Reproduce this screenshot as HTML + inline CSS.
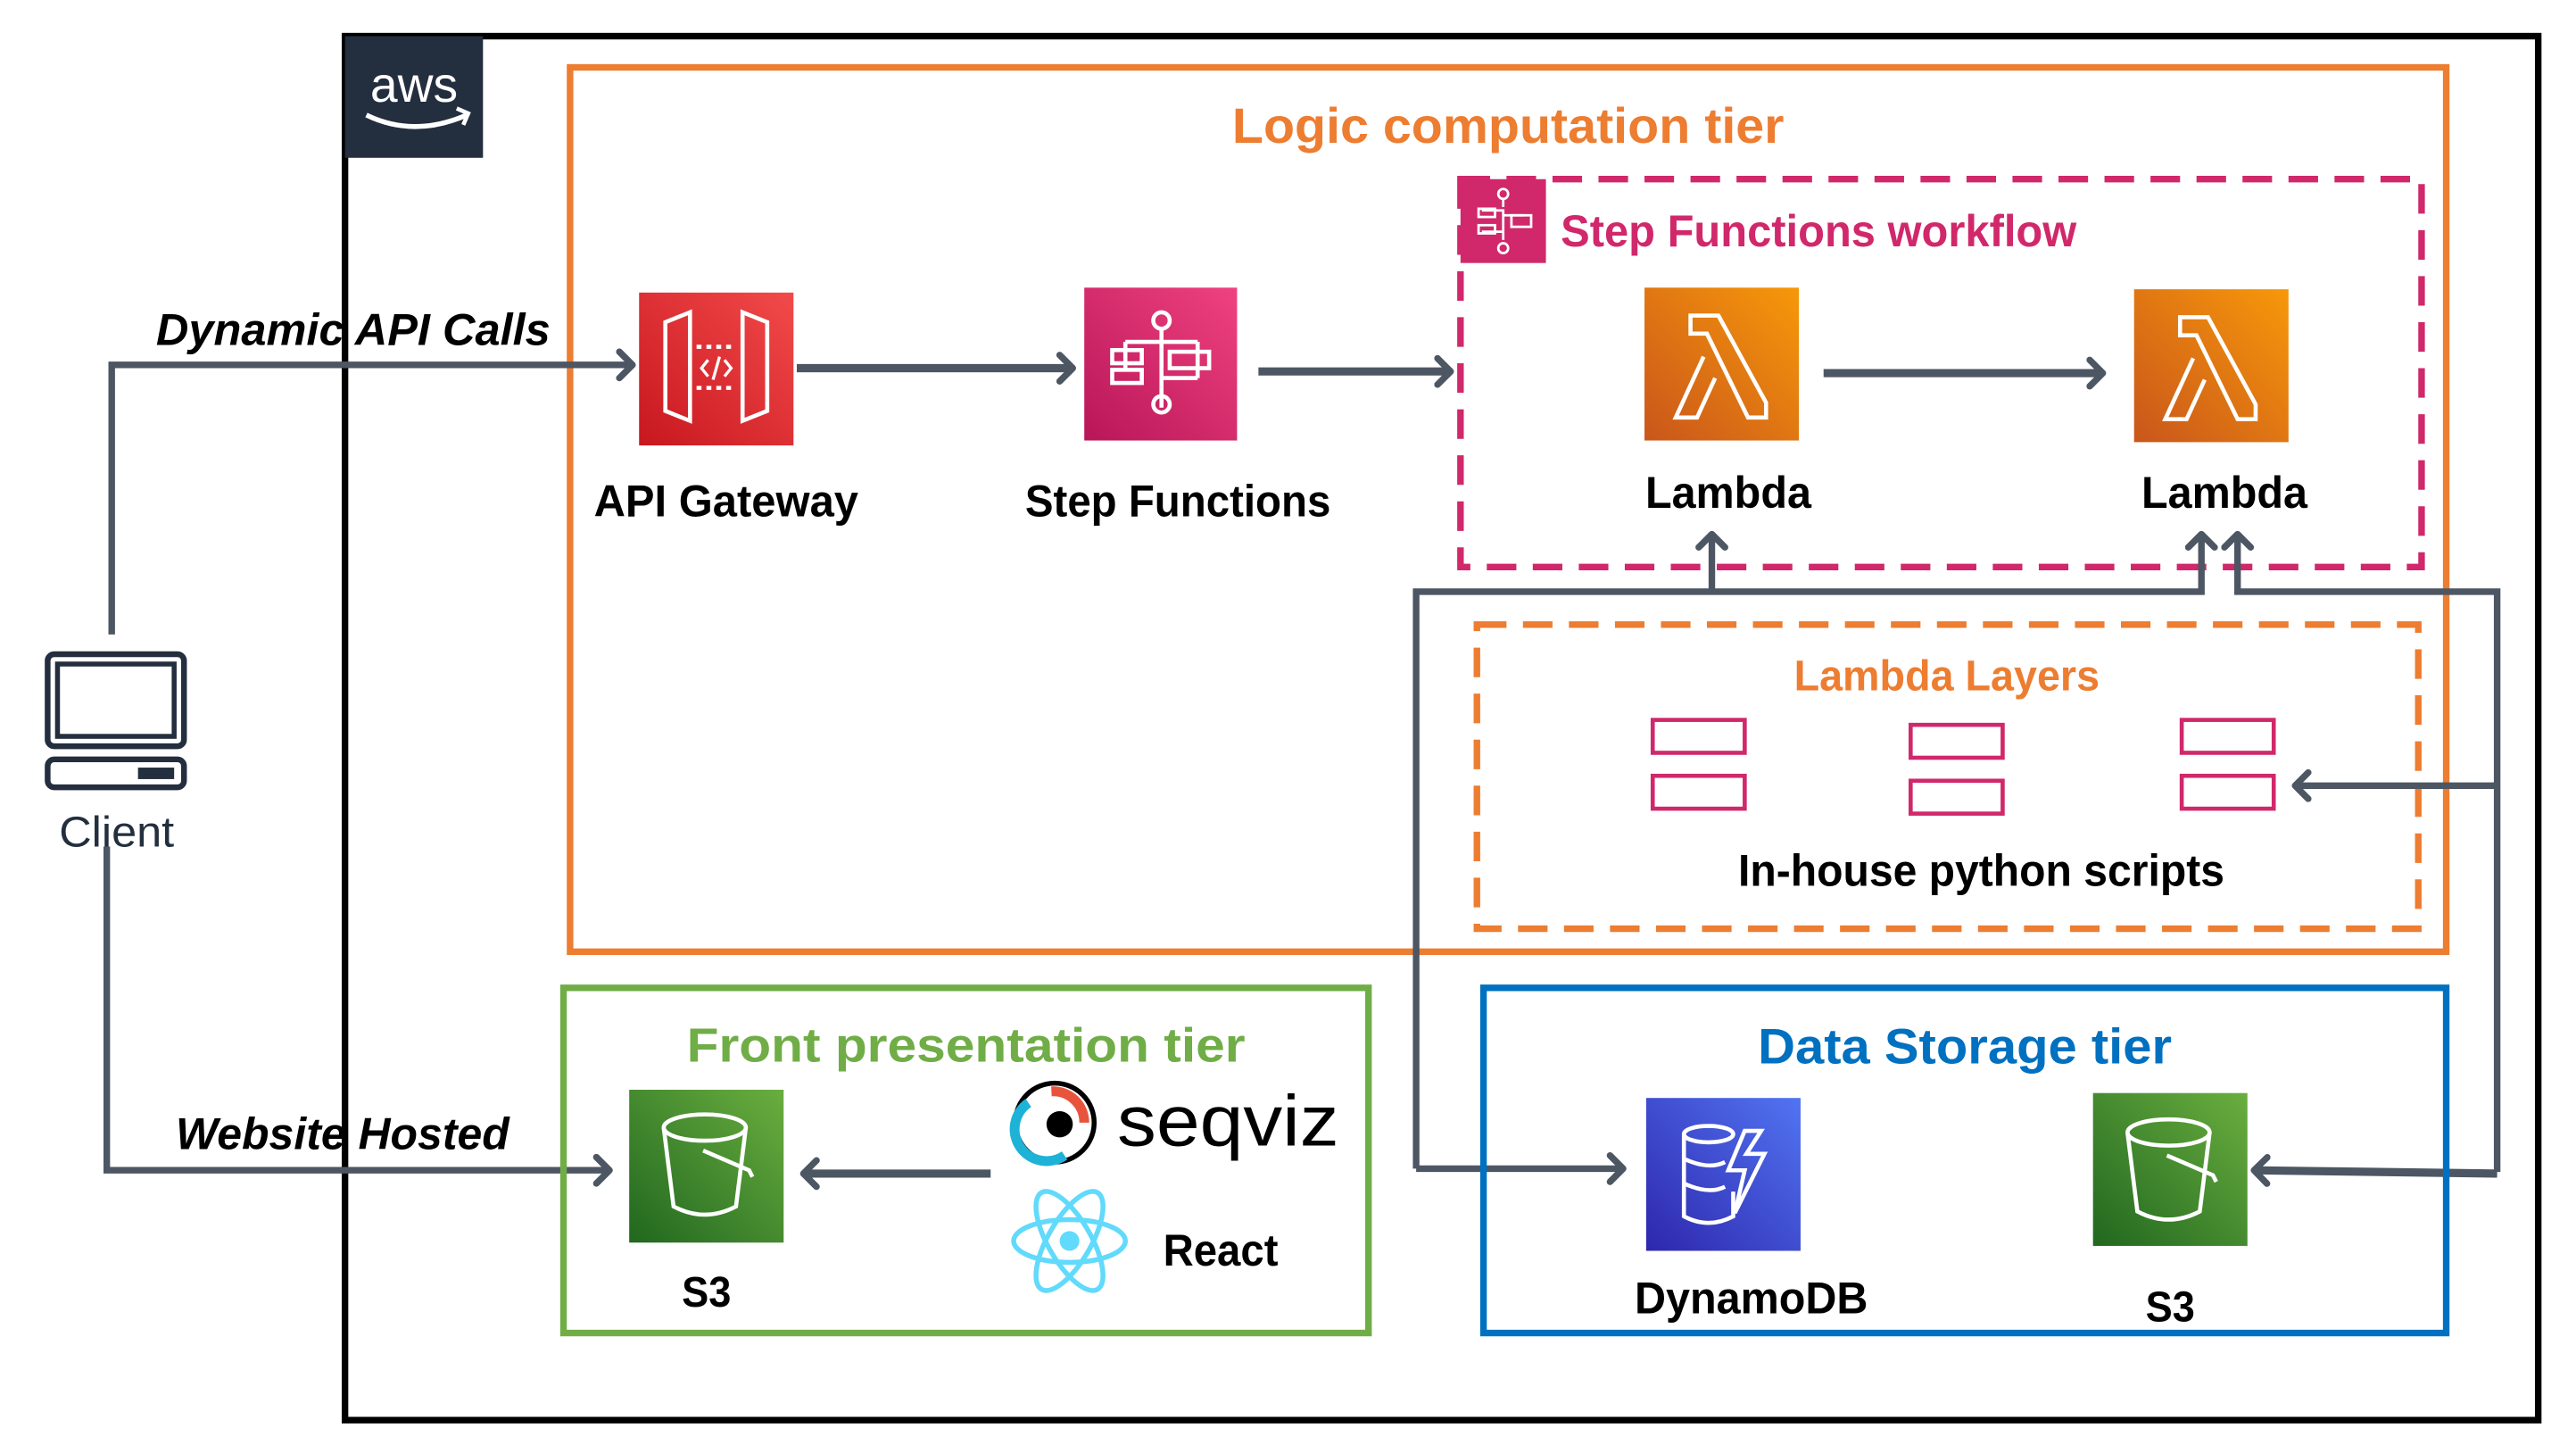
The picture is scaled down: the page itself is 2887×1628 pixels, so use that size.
<!DOCTYPE html>
<html><head><meta charset="utf-8"><style>
html,body{margin:0;padding:0;background:#fff;}
svg{display:block;}
text{font-family:"Liberation Sans Narrow","Liberation Sans",sans-serif;font-weight:bold;}
</style></head><body>
<svg width="2887" height="1628" viewBox="0 0 1568 884" preserveAspectRatio="none" xmlns="http://www.w3.org/2000/svg">
<defs>
<marker id="a" markerUnits="userSpaceOnUse" markerWidth="20" markerHeight="24" refX="10" refY="10" orient="auto">
<path d="M2,2 L10,10 L2,18" fill="none" stroke="#4d5663" stroke-width="4" stroke-linecap="round" stroke-linejoin="round"/>
</marker>
<linearGradient id="gr" x1="0" y1="1" x2="1" y2="0"><stop offset="0" stop-color="#c8171f"/><stop offset="1" stop-color="#f24a4a"/></linearGradient>
<linearGradient id="gp" x1="0" y1="1" x2="1" y2="0"><stop offset="0" stop-color="#b81659"/><stop offset="1" stop-color="#f0427f"/></linearGradient>
<linearGradient id="go" x1="0" y1="1" x2="1" y2="0"><stop offset="0" stop-color="#c9561b"/><stop offset="1" stop-color="#f7980a"/></linearGradient>
<linearGradient id="gg" x1="0" y1="1" x2="1" y2="0"><stop offset="0" stop-color="#21671f"/><stop offset="1" stop-color="#6aae3f"/></linearGradient>
<linearGradient id="gb" x1="0" y1="1" x2="1" y2="0"><stop offset="0" stop-color="#2e27ad"/><stop offset="1" stop-color="#5174f2"/></linearGradient>
</defs>

<!-- AWS cloud box -->
<rect x="210" y="22" width="1335" height="842" fill="none" stroke="#000" stroke-width="4"/>
<rect x="210" y="22" width="84" height="74" fill="#232f3e"/>
<text x="252" y="62" text-anchor="middle" fill="#fff" font-size="30" style="font-weight:normal">aws</text>
<path d="M223,70 Q252,84 284,70" fill="none" stroke="#fff" stroke-width="3"/>
<path d="M278,66 L285,69 L282,76" fill="none" stroke="#fff" stroke-width="2.5"/>

<!-- Logic tier -->
<rect x="347" y="41" width="1142" height="538" fill="none" stroke="#ed7d31" stroke-width="4"/>
<text x="918" y="87" text-anchor="middle" fill="#ed7d31" font-size="30" textLength="336" lengthAdjust="spacingAndGlyphs">Logic computation tier</text>

<!-- Step functions workflow dashed -->
<rect x="889" y="109" width="585" height="236" fill="none" stroke="#d0286b" stroke-width="4" stroke-dasharray="18,10"/>
<rect x="889" y="109" width="52" height="51" fill="#d0286b"/>
<g fill="none" stroke="#fff" stroke-width="1.5">
<circle cx="915" cy="118" r="3"/><path d="M915,121 V126 M902,128 H915 V146 M915,131 H928 M915,141 H902"/>
<rect x="900" y="127" width="10" height="5"/><rect x="900" y="137" width="10" height="5"/><rect x="920" y="131" width="12" height="7"/>
<circle cx="915" cy="151" r="3"/>
</g>
<text x="950" y="150" fill="#d0286b" font-size="27" textLength="314" lengthAdjust="spacingAndGlyphs">Step Functions workflow</text>

<!-- API Gateway -->
<rect x="389" y="178" width="94" height="93" fill="url(#gr)"/>
<g fill="none" stroke="#fff" stroke-width="2.5">
<path d="M405,196 L420,190 V256 L405,250 Z"/><path d="M467,196 L452,190 V256 L467,250 Z"/>
<path d="M424,211 H448 M424,236 H448" stroke-dasharray="3,3"/>
<path d="M431,219 L427,224 L431,229 M441,219 L445,224 L441,229 M438,217 L434,231" stroke-width="1.8"/>
</g>
<text x="442" y="314" text-anchor="middle" font-size="27" textLength="161" lengthAdjust="spacingAndGlyphs">API Gateway</text>

<!-- Step Functions -->
<rect x="660" y="175" width="93" height="93" fill="url(#gp)"/>
<g fill="none" stroke="#fff" stroke-width="2.5">
<circle cx="707" cy="195" r="5"/><path d="M707,200 V206 M685,208 H729 M707,206 V248 M707,230 H729 M685,208 V226 M729,208 V230"/>
<rect x="677" y="213" width="18" height="8"/><rect x="677" y="225" width="18" height="8"/><rect x="712" y="214" width="24" height="10"/>
<circle cx="707" cy="246" r="5"/>
</g>
<text x="717" y="314" text-anchor="middle" font-size="27" textLength="186" lengthAdjust="spacingAndGlyphs">Step Functions</text>

<!-- Lambdas -->
<g>
<rect x="1001" y="175" width="94" height="93" fill="url(#go)"/>
<path d="M1029,192 H1046 L1075,245 V254 H1064 L1039,203 H1029 Z M1037,217 L1020,254 H1033 L1044,230" fill="none" stroke="#fff" stroke-width="2.5"/>
<rect x="1299" y="176" width="94" height="93" fill="url(#go)"/>
<path d="M1327,193 H1344 L1373,246 V255 H1362 L1337,204 H1327 Z M1335,218 L1318,255 H1331 L1342,231" fill="none" stroke="#fff" stroke-width="2.5"/>
</g>
<text x="1052" y="309" text-anchor="middle" font-size="27" textLength="101" lengthAdjust="spacingAndGlyphs">Lambda</text>
<text x="1354" y="309" text-anchor="middle" font-size="27" textLength="101" lengthAdjust="spacingAndGlyphs">Lambda</text>

<!-- arrows top -->
<g stroke="#4d5663" stroke-width="5" fill="none">
<line x1="485" y1="224" x2="653" y2="224" marker-end="url(#a)"/>
<line x1="766" y1="226" x2="883" y2="226" marker-end="url(#a)"/>
<line x1="1110" y1="227" x2="1280" y2="227" marker-end="url(#a)"/>
<polyline points="68,386 68,222 385,222" marker-end="url(#a)" stroke-width="4"/>
<polyline points="65,515 65,712 371,712" marker-end="url(#a)" stroke-width="4"/>
<line x1="603" y1="714" x2="489" y2="714" marker-end="url(#a)"/>
</g>
<text x="95" y="210" font-size="27" font-style="italic" textLength="240" lengthAdjust="spacingAndGlyphs">Dynamic  API  Calls</text>
<text x="107" y="699" font-size="27" font-style="italic" textLength="203" lengthAdjust="spacingAndGlyphs">Website  Hosted</text>

<!-- Client -->
<rect x="29" y="398" width="83" height="56" rx="4" fill="none" stroke="#232f3e" stroke-width="3.5"/>
<rect x="35" y="404" width="71" height="44" fill="none" stroke="#232f3e" stroke-width="3"/>
<rect x="29" y="462" width="83" height="17" rx="4" fill="none" stroke="#232f3e" stroke-width="3.5"/>
<rect x="84" y="467" width="22" height="7" fill="#232f3e"/>
<text x="71" y="515" text-anchor="middle" font-size="26" fill="#232f3e" style="font-weight:normal" textLength="70" lengthAdjust="spacingAndGlyphs">Client</text>

<!-- Lambda layers -->
<rect x="899" y="380" width="573" height="185" fill="none" stroke="#ed7d31" stroke-width="4" stroke-dasharray="18,10"/>
<text x="1185" y="420" text-anchor="middle" fill="#ed7d31" font-size="26" textLength="186" lengthAdjust="spacingAndGlyphs">Lambda Layers</text>
<g fill="none" stroke="#d0286b" stroke-width="2.5">
<rect x="1006" y="438" width="56" height="20"/><rect x="1006" y="472" width="56" height="20"/>
<rect x="1163" y="441" width="56" height="20"/><rect x="1163" y="475" width="56" height="20"/>
<rect x="1328" y="438" width="56" height="20"/><rect x="1328" y="472" width="56" height="20"/>
</g>
<text x="1206" y="539" text-anchor="middle" font-size="27" textLength="296" lengthAdjust="spacingAndGlyphs">In-house python scripts</text>

<!-- layer connectors -->
<g stroke="#4d5663" stroke-width="4" fill="none">
<line x1="1042" y1="360" x2="1042" y2="325" marker-end="url(#a)"/>
<polyline points="862,711 862,360 1340,360 1340,325" marker-end="url(#a)"/>
<line x1="862" y1="711" x2="988" y2="711" marker-end="url(#a)"/>
<polyline points="1520,713 1520,360 1362,360 1362,325" marker-end="url(#a)"/>
<line x1="1520" y1="478" x2="1397" y2="478" marker-end="url(#a)"/>
<line x1="1520" y1="714" x2="1372" y2="712" marker-end="url(#a)" stroke-width="5"/>
</g>

<!-- Front presentation tier -->
<rect x="343" y="601" width="490" height="210" fill="none" stroke="#70ad47" stroke-width="4"/>
<text x="588" y="646" text-anchor="middle" fill="#70ad47" font-size="29" textLength="340" lengthAdjust="spacingAndGlyphs">Front presentation tier</text>
<rect x="383" y="663" width="94" height="93" fill="url(#gg)"/>
<g fill="none" stroke="#fff" stroke-width="2.5">
<ellipse cx="429" cy="686" rx="25" ry="8"/><path d="M404,686 L410,734 Q429,744 448,734 L454,686"/><path d="M428,700 L456,712 L458,716"/>
</g>
<text x="430" y="795" text-anchor="middle" font-size="26" textLength="30" lengthAdjust="spacingAndGlyphs">S3</text>
<circle cx="642" cy="683" r="24" fill="none" stroke="#000" stroke-width="3"/>
<path d="M626,671 A19,19 0 0,0 648,703" fill="none" stroke="#1eb2d6" stroke-width="6"/>
<path d="M640,664 A19,19 0 0,1 660,683" fill="none" stroke="#e8533c" stroke-width="6"/>
<circle cx="645" cy="684" r="8" fill="#000"/>
<text x="680" y="697" font-size="44" style="font-weight:normal" textLength="135" lengthAdjust="spacingAndGlyphs">seqviz</text>
<g fill="none" stroke="#61dafb" stroke-width="3">
<ellipse cx="651" cy="755" rx="34" ry="13"/><ellipse cx="651" cy="755" rx="34" ry="13" transform="rotate(60 651 755)"/><ellipse cx="651" cy="755" rx="34" ry="13" transform="rotate(-60 651 755)"/>
</g>
<circle cx="651" cy="755" r="6" fill="#61dafb"/>
<text x="708" y="770" font-size="27" textLength="70" lengthAdjust="spacingAndGlyphs">React</text>

<!-- Data storage tier -->
<rect x="903" y="601" width="586" height="210" fill="none" stroke="#0070c0" stroke-width="4"/>
<text x="1196" y="647" text-anchor="middle" fill="#0070c0" font-size="30" textLength="252" lengthAdjust="spacingAndGlyphs">Data Storage tier</text>
<rect x="1002" y="668" width="94" height="93" fill="url(#gb)"/>
<g fill="none" stroke="#fff" stroke-width="2.5">
<ellipse cx="1040" cy="690" rx="15" ry="5"/><path d="M1025,690 V740 Q1040,748 1055,740 V725 M1025,705 Q1040,712 1050,707 M1025,720 Q1040,727 1050,722"/>
<path d="M1062,688 L1052,712 H1062 L1056,738 L1074,702 H1063 L1072,688 Z"/>
</g>
<text x="1066" y="799" text-anchor="middle" font-size="27" textLength="142" lengthAdjust="spacingAndGlyphs">DynamoDB</text>
<rect x="1274" y="665" width="94" height="93" fill="url(#gg)"/>
<g fill="none" stroke="#fff" stroke-width="2.5">
<ellipse cx="1320" cy="689" rx="25" ry="8"/><path d="M1295,689 L1301,737 Q1320,747 1339,737 L1345,689"/><path d="M1319,703 L1347,715 L1349,719"/>
</g>
<text x="1321" y="804" text-anchor="middle" font-size="26" textLength="30" lengthAdjust="spacingAndGlyphs">S3</text>
</svg>
</body></html>
